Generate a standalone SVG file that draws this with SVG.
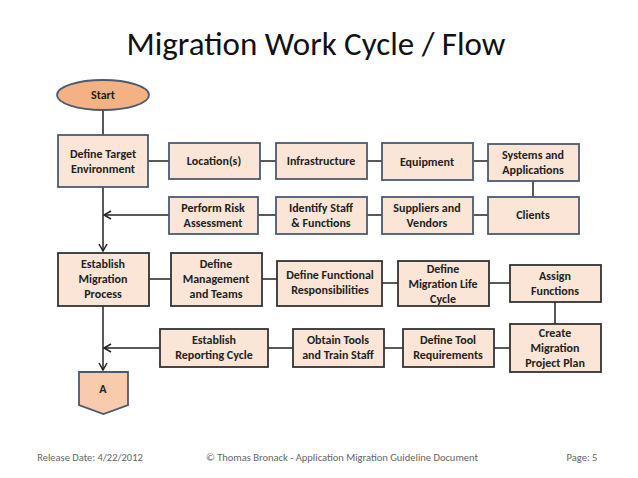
<svg xmlns="http://www.w3.org/2000/svg" width="638" height="478" viewBox="0 0 638 478">
<style>
.b{fill:#FBE5D6;stroke:#4A5A70;stroke-width:1.8}
.d{fill:#FBE5D6;stroke:#333;stroke-width:1.8}
text{font-family:Carlito,"Open Sans","Liberation Sans",sans-serif;font-size:12px;font-weight:bold;fill:#222;text-anchor:middle}
.c line{stroke:#222;stroke-width:1.5}
.f{font-weight:normal;font-size:10.5px;fill:#666}
</style>
<defs><marker id="ar" markerWidth="10" markerHeight="10" refX="1" refY="5" orient="0" markerUnits="userSpaceOnUse"><path d="M8,1 L1,5 L8,9" fill="none" stroke="#222" stroke-width="1.5"/></marker>
<marker id="ad" markerWidth="10" markerHeight="10" refX="5" refY="9" orient="0" markerUnits="userSpaceOnUse"><path d="M1,2 L5,9 L9,2" fill="none" stroke="#222" stroke-width="1.5"/></marker></defs>
<text x="316" y="55" style="font-size:33px;font-weight:normal;fill:#111">Migration Work Cycle / Flow</text>
<g class="c" id="connectors">
<line x1="103" y1="110" x2="103" y2="135"/>
<line x1="103" y1="187" x2="103" y2="251" marker-end="url(#ad)"/>
<line x1="103" y1="306" x2="103" y2="370" marker-end="url(#ad)"/>
<line x1="148" y1="161" x2="169" y2="161"/>
<line x1="260" y1="161" x2="276" y2="161"/>
<line x1="367" y1="161" x2="382" y2="161"/>
<line x1="473" y1="161" x2="488" y2="161"/>
<line x1="533" y1="181" x2="533" y2="197"/>
<line x1="473" y1="215" x2="488" y2="215"/>
<line x1="367" y1="215" x2="382" y2="215"/>
<line x1="258" y1="215" x2="276" y2="215"/>
<line x1="169" y1="215" x2="104" y2="215" marker-end="url(#ar)"/>
<line x1="149" y1="279" x2="171" y2="279"/>
<line x1="262" y1="279" x2="277" y2="279"/>
<line x1="382" y1="283" x2="398" y2="283"/>
<line x1="489" y1="283" x2="510" y2="283"/>
<line x1="555" y1="302" x2="555" y2="324"/>
<line x1="494" y1="348" x2="510" y2="348"/>
<line x1="384" y1="348" x2="403" y2="348"/>
<line x1="268" y1="348" x2="293" y2="348"/>
<line x1="160" y1="348" x2="104" y2="348" marker-end="url(#ar)"/>
</g>
<g id="start"><ellipse cx="103" cy="95" rx="46" ry="15" fill="#F4B183" stroke="#4A5A70" stroke-width="1.8"/><text x="103" y="99">Start</text></g>
<g id="n1"><rect class="b" x="58" y="135" width="90" height="52"/><text x="103" y="158">Define Target</text><text x="103" y="173">Environment</text></g>
<g id="n2"><rect class="b" x="169" y="143" width="91" height="36"/><text x="214" y="165">Location(s)</text></g>
<g id="n3"><rect class="b" x="276" y="143" width="91" height="36"/><text x="321" y="165">Infrastructure</text></g>
<g id="n4"><rect class="b" x="382" y="143" width="91" height="37"/><text x="427" y="166">Equipment</text></g>
<g id="n5"><rect class="b" x="488" y="144" width="91" height="37"/><text x="533" y="159">Systems and</text><text x="533" y="174">Applications</text></g>
<g id="n6"><rect class="b" x="169" y="197" width="89" height="37"/><text x="213" y="212">Perform Risk</text><text x="213" y="227">Assessment</text></g>
<g id="n7"><rect class="b" x="276" y="197" width="91" height="37"/><text x="321" y="212">Identify Staff</text><text x="321" y="227">&amp; Functions</text></g>
<g id="n8"><rect class="b" x="382" y="197" width="91" height="37"/><text x="427" y="212">Suppliers and</text><text x="427" y="227">Vendors</text></g>
<g id="n9"><rect class="b" x="488" y="197" width="91" height="37"/><text x="533" y="219">Clients</text></g>
<g id="n10"><rect class="d" x="58" y="253" width="91" height="53"/><text x="103" y="268">Establish</text><text x="103" y="283">Migration</text><text x="103" y="298">Process</text></g>
<g id="n11"><rect class="d" x="171" y="253" width="91" height="53"/><text x="216" y="268">Define</text><text x="216" y="283">Management</text><text x="216" y="298">and Teams</text></g>
<g id="n12"><rect class="d" x="277" y="261" width="105" height="45"/><text x="330" y="279">Define Functional</text><text x="330" y="294">Responsibilities</text></g>
<g id="n13"><rect class="d" x="398" y="261" width="91" height="45"/><text x="443" y="273">Define</text><text x="443" y="288">Migration Life</text><text x="443" y="303">Cycle</text></g>
<g id="n14"><rect class="d" x="510" y="265" width="91" height="37"/><text x="555" y="280">Assign</text><text x="555" y="295">Functions</text></g>
<g id="n15"><rect class="d" x="160" y="329" width="108" height="38"/><text x="214" y="344">Establish</text><text x="214" y="359">Reporting Cycle</text></g>
<g id="n16"><rect class="d" x="293" y="329" width="91" height="38"/><text x="338" y="344">Obtain Tools</text><text x="338" y="359">and Train Staff</text></g>
<g id="n17"><rect class="d" x="403" y="329" width="91" height="38"/><text x="448" y="344">Define Tool</text><text x="448" y="359">Requirements</text></g>
<g id="n18"><rect class="d" x="510" y="324" width="91" height="48"/><text x="555" y="337">Create</text><text x="555" y="352">Migration</text><text x="555" y="367">Project Plan</text></g>
<g id="a"><path d="M79,372 H128 V405 L103.5,414 L79,405 Z" fill="#F8CBAD" stroke="#4A5A70" stroke-width="1.8"/><text x="103" y="393">A</text></g>
<text class="f" x="90" y="461">Release Date: 4/22/2012</text>
<text class="f" x="342" y="461">© Thomas Bronack - Application Migration Guideline Document</text>
<text class="f" x="582" y="461">Page:  5</text>
</svg>
